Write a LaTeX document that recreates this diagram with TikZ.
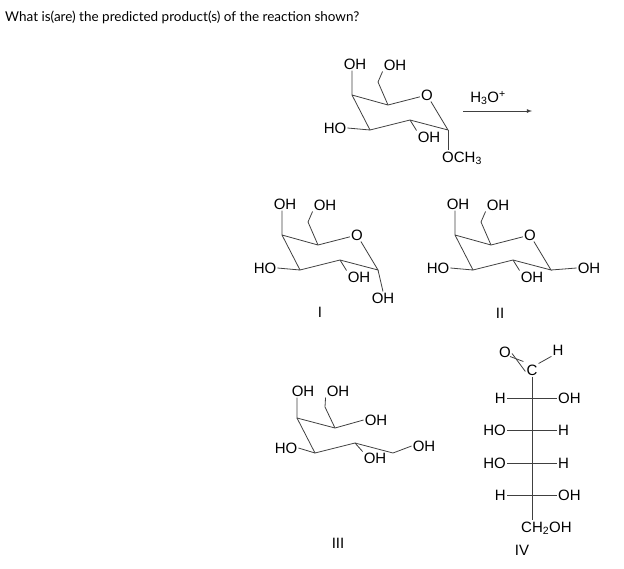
\documentclass[tikz,border=0pt]{standalone}
\usepackage{fontspec}
\setmainfont{Liberation Sans}
\newfontfamily\titlefont{Lato}
\begin{document}
\begin{tikzpicture}[x=1pt,y=-1pt,
  lab/.style={font=\fontsize{15}{15}\selectfont,inner sep=1pt},
  bond/.style={line width=0.8pt,black!75},
  roman/.style={font=\fontsize{15}{15}\selectfont}]
\useasboundingbox (0,0) rectangle (624,568);
\node[anchor=west,font=\titlefont\fontsize{13.5}{14}\selectfont,inner sep=0] (title) at (5,17) {What is(are) the predicted product(s) of the reaction shown?};
\newcommand\pyr[3]{%
\begin{scope}[shift={(#2,#3)}]
\coordinate (#1c4) at (0,0); \coordinate (#1c5) at (36,10);
\node[lab] (#1o) at (75,0) {O};
\coordinate (#1c1) at (96,35); \coordinate (#1c2) at (58,25);
\coordinate (#1c3) at (18,35); \coordinate (#1ch) at (26,-13);
\node[lab] (#1oh4) at (3,-31) {OH};
\node[lab] (#1oh6) at (43,-30) {OH};
\node[lab] (#1ho3) at (-17,33) {HO};
\node[lab] (#1oh2) at (77,42) {OH};
\draw[bond] (#1oh4.south -| #1c4) -- (#1c4) -- (#1c5) -- (#1o) -- (#1c1) -- (#1c2) -- (#1c3) -- (#1c4);
\draw[bond] (#1c5) -- (#1ch) -- (#1oh6.south west);
\draw[bond] (#1c3) -- (#1ho3.east);
\draw[bond] (#1c2) -- (#1oh2.north west);
\end{scope}}
% starting material
\pyr{a}{352}{95}
\coordinate (aoe) at (448,150);
\node[lab,anchor=west] (och3) at (441,158) {OCH\textsubscript{3}};
\draw[bond] (ac1) -- (aoe);
\node[lab] (h3o) at (488,98) {H\textsubscript{3}O\textsuperscript{+}};
\coordinate (arA) at (463,111); \coordinate (arB) at (532,111);
\draw[bond,-latex] (arA) -- (arB);
% I
\pyr{b}{282}{235}
\node[lab] (boh1) at (383,298) {OH};
\draw[bond] (bc1) -- (boh1.north);
\node[roman] (rI) at (320,312) {I};
% II
\pyr{c}{455}{235}
\node[lab] (coh1) at (589,268) {OH};
\draw[bond] (cc1) -- (coh1.west);
\node[roman] (rII) at (500,313) {II};
% III
\begin{scope}[shift={(297,418)}]
\coordinate (dc4) at (0,0); \coordinate (dc5) at (38,10);
\coordinate (dc1) at (96,35); \coordinate (dc2) at (58,25);
\coordinate (dc3) at (18,35); \coordinate (dch) at (28,-11);
\node[lab] (doh4) at (6,-27) {OH};
\node[lab] (doh6) at (41,-27) {OH};
\node[lab] (doh5) at (79,2) {OH};
\node[lab] (dho3) at (-11,30) {HO};
\node[lab] (doh2) at (78,40) {OH};
\node[lab] (doh1) at (127,28) {OH};
\draw[bond] (doh4.south -| dc4) -- (dc4) -- (dc5) -- (doh5.west);
\draw[bond] (dc4) -- (dc3) -- (dc2) -- (dc1) -- (doh1.west);
\draw[bond] (dc5) -- (dch) -- (doh6.south west);
\draw[bond] (dc3) -- (dho3.east);
\draw[bond] (dc2) -- (doh2.north west);
\end{scope}
\node[roman] (rIII) at (338,543) {III};
% IV Fischer
\node[lab] (fc) at (532,370) {C};
\node[lab] (fo) at (505,352) {O};
\node[lab] (fh) at (558,350) {H};
\draw[bond] ([yshift=-1.5pt]fo.east) -- ([yshift=-1.5pt]fc.west);
\draw[bond] ([xshift=-2pt,yshift=2pt]fo.south east) -- ([xshift=-2pt,yshift=2pt]fc.north west);
\draw[bond] (fc.north east) -- (fh.south west);
\node[lab,anchor=west] (fch) at (520,528) {CH\textsubscript{2}OH};
\draw[bond] (fc.south) -- (fch.north -| fc);
\foreach \y/\L/\R [count=\i] in {398/H/OH,430/HO/H,463/HO/H,495/H/OH}{
  \coordinate (fx\i) at (532,\y);
  \node[lab,anchor=east] (fl\i) at (507,\y) {\L};
  \node[lab,anchor=west] (fr\i) at (557,\y) {\R};
  \draw[bond] (fl\i.east) -- (fr\i.west);
}
\node[roman] (rIV) at (522,550) {IV};
\end{tikzpicture}
\end{document}
